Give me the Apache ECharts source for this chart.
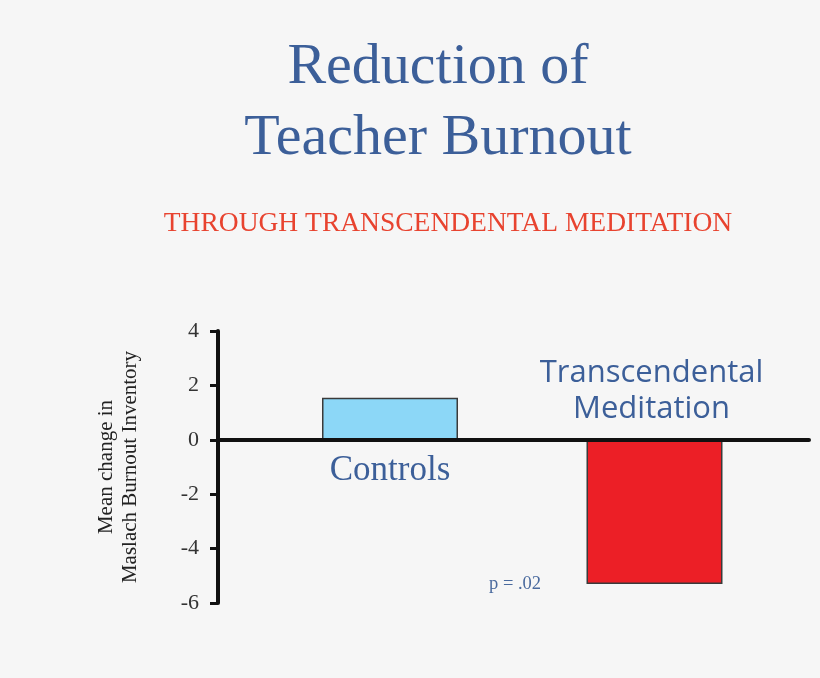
<!DOCTYPE html>
<html>
<head>
<meta charset="utf-8">
<script src="https://cdn.jsdelivr.net/npm/echarts@6/dist/echarts.min.js"></script>
<style>
html,body{margin:0;padding:0;background:#f6f6f6;}
#chart{width:820px;height:678px;}
</style>
</head>
<body>
<div id="chart"></div>
<script>
// ---- data ----
const categories = ['Controls', 'Transcendental\nMeditation'];
const meanChange = [1.55, -5.3];
const barColors = ['#8cd7f7', '#ec1f26'];
const yTicks = { min: -6, max: 4, interval: 2 };
const titleText = 'Reduction of\nTeacher Burnout';
const subtitleText = 'THROUGH TRANSCENDENTAL MEDITATION';
const yAxisName = 'Mean change in\nMaslach Burnout Inventory';
const pValueText = 'p = .02';

const blue = '#3c5f99';
const serif = '"Liberation Serif", "Times New Roman", serif';

const chart = echarts.init(document.getElementById('chart'));
chart.setOption({
  backgroundColor: '#f6f6f6',
  animation: false,
  title: [
    { text: titleText, left: 433, top: 27, textAlign: 'center',
      textStyle: { fontFamily: serif, fontWeight: 'normal', fontSize: 58, lineHeight: 71, color: blue } },
    { text: subtitleText, left: 443, top: 205, textAlign: 'center',
      textStyle: { fontFamily: serif, fontWeight: 'normal', fontSize: 27.5, lineHeight: 28, color: '#e8432f' } },
    { text: pValueText, left: 484, top: 570,
      textStyle: { fontFamily: serif, fontWeight: 'normal', fontSize: 18.5, color: '#4a6a9e' } }
  ],
  grid: [
    { left: 218, right: 11, top: 331, bottom: 75 },
    { left: 257.75, right: 33.25, top: 331, bottom: 75 }
  ],
  xAxis: [
    { gridIndex: 0, type: 'category', data: categories, z: 5,
      axisLine: { onZero: true, lineStyle: { color: '#111', width: 4 } },
      axisTick: { show: false }, axisLabel: { show: false }, splitLine: { show: false } },
    { gridIndex: 1, type: 'category', data: categories, show: false }
  ],
  yAxis: [
    { gridIndex: 0, type: 'value', min: yTicks.min, max: yTicks.max, interval: yTicks.interval, z: 5,
      name: yAxisName, nameLocation: 'middle', nameRotate: 90, nameGap: 76,
      nameTextStyle: { fontFamily: serif, fontSize: 21, lineHeight: 24, color: '#222' },
      axisLine: { show: true, lineStyle: { color: '#111', width: 4 } },
      axisTick: { show: true, length: 8, lineStyle: { color: '#111', width: 3 } },
      axisLabel: { fontFamily: serif, fontSize: 22, color: '#333', margin: 19 },
      splitLine: { show: false } },
    { gridIndex: 1, type: 'value', min: yTicks.min, max: yTicks.max, interval: yTicks.interval, show: false, splitLine: { show: false } }
  ],
  series: [{
    type: 'bar',
    xAxisIndex: 1, yAxisIndex: 1,
    barWidth: 136,
    data: meanChange.map((v, i) => ({
      value: v,
      itemStyle: { color: barColors[i], borderColor: '#3a3a3a', borderWidth: 1.5 },
      label: i === 0
        ? { show: true, position: 'bottom', distance: 14, formatter: '{b}',
            fontFamily: serif, fontSize: 35, color: blue }
        : { show: true, position: 'top', distance: 13, formatter: '{b}', offset: [-3, 0],
            fontFamily: '"Open Sans", sans-serif', fontSize: 31, lineHeight: 36, color: blue }
    }))
  }]
});
</script>
</body>
</html>
